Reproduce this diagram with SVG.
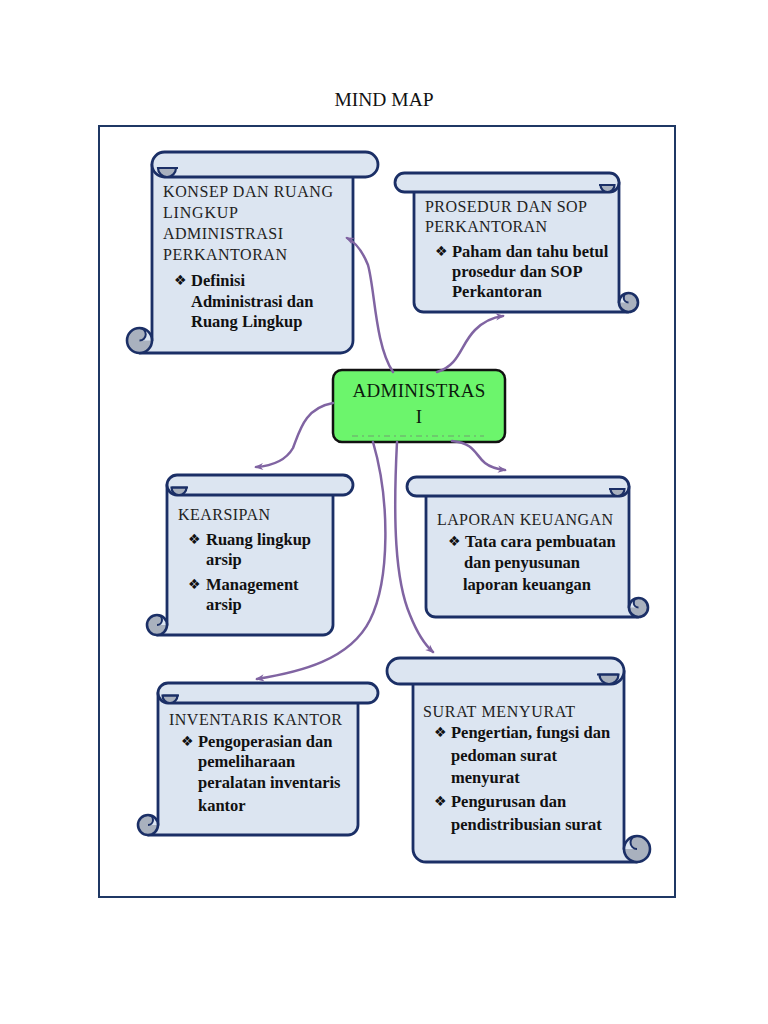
<svg xmlns="http://www.w3.org/2000/svg" width="768" height="1024" viewBox="0 0 768 1024">
<style>
.body{fill:#DCE5F1;stroke:#1B2F66;stroke-width:2.8;stroke-linejoin:round}
.curl{fill:#A9B1BE;stroke:#1B2F66;stroke-width:2.2}
.gd{fill:#A9B1BE;stroke:none}
.lt{fill:#DCE5F1;stroke:none}
.ring{fill:none;stroke:#1B2F66;stroke-width:2.6}
.cl{fill:none;stroke:#1B2F66;stroke-width:2}
.hd{font-family:"Liberation Serif",serif;font-size:16px;fill:#222}
.bt{font-family:"Liberation Serif",serif;font-size:16.5px;font-weight:bold;fill:#111}
.bl{font-family:"DejaVu Sans",sans-serif;font-size:14px;fill:#111}
.conn{fill:none;stroke:#8064A2;stroke-width:2.5;stroke-linecap:round;marker-end:url(#ah)}
</style>
<defs>
<marker id="ah" viewBox="0 0 10 10" refX="8" refY="5" markerWidth="10" markerHeight="9" markerUnits="userSpaceOnUse" orient="auto">
<path d="M0,1 L10,5 L0,9 L3,5 Z" fill="#8064A2"/>
</marker>
</defs>
<rect width="768" height="1024" fill="#ffffff"/>
<text x="384" y="106" text-anchor="middle" font-family="Liberation Serif, serif" font-size="19.5" fill="#111">MIND MAP</text>
<rect id="frame" x="99" y="126" width="576" height="771" fill="none" stroke="#1F3864" stroke-width="2"/>

<g id="konsep">
<path class="body" d="M152,164.5 L353,164.5 L353,340.5 A12.5,12.5 0 0 1 340.5,353 L139.5,353 L139.5,340.5 L152,340.5 Z"/>
<rect class="body" x="152" y="152" width="226" height="25" rx="12.5"/>
<path class="curl" d="M158,168 A9,9 0 0 0 176,168 Z"/>
<path class="cl" d="M158,168 L178,168"/>
<circle class="gd" cx="139.5" cy="340.5" r="12.5"/>
<path class="lt" d="M139.5,328 A6.25,6.25 0 0 1 139.5,340.5 L152,340.5 A12.5,12.5 0 0 0 139.5,328 Z"/>
<circle class="ring" cx="139.5" cy="340.5" r="12.5"/>
<path class="cl" d="M139.5,328 A6.25,6.25 0 0 1 139.5,340.5"/>
<text class="hd" x="163" y="197" textLength="170" lengthAdjust="spacing">KONSEP DAN RUANG</text>
<text class="hd" x="163" y="218" textLength="75" lengthAdjust="spacing">LINGKUP</text>
<text class="hd" x="163" y="239" textLength="120" lengthAdjust="spacing">ADMINISTRASI</text>
<text class="hd" x="163" y="260" textLength="124" lengthAdjust="spacing">PERKANTORAN</text>
<text class="bl" x="174" y="285">❖</text>
<text class="bt" x="191" y="286">Definisi</text>
<text class="bt" x="191" y="307">Administrasi dan</text>
<text class="bt" x="191" y="327">Ruang Lingkup</text>
</g>

<g id="prosedur">
<path class="body" d="M414,182.5 L619,182.5 L619,302.5 L628.5,302.5 L628.5,312 L423.5,312 A9.5,9.5 0 0 1 414,302.5 Z"/>
<rect class="body" x="395" y="173" width="224" height="19" rx="9.5"/>
<path class="curl" d="M600.5,185 A7,7 0 0 0 614.5,185 Z"/>
<path class="cl" d="M599,185 L614.5,185"/>
<circle class="gd" cx="628.5" cy="302.5" r="9.5"/>
<path class="lt" d="M628.5,293 A4.75,4.75 0 0 0 628.5,302.5 L619,302.5 A9.5,9.5 0 0 1 628.5,293 Z"/>
<circle class="ring" cx="628.5" cy="302.5" r="9.5"/>
<path class="cl" d="M628.5,293 A4.75,4.75 0 0 0 628.5,302.5"/>
<text class="hd" x="425" y="212" textLength="162" lengthAdjust="spacing">PROSEDUR DAN SOP</text>
<text class="hd" x="425" y="232" textLength="122" lengthAdjust="spacing">PERKANTORAN</text>
<text class="bl" x="435" y="256">❖</text>
<text class="bt" x="452" y="257">Paham dan tahu betul</text>
<text class="bt" x="452" y="277">prosedur dan SOP</text>
<text class="bt" x="452" y="297">Perkantoran</text>
</g>

<g id="center">
<rect x="333" y="370" width="172" height="72" rx="9" fill="#6CF56C" stroke="#111" stroke-width="2.5"/>
<text x="419" y="397" text-anchor="middle" font-family="Liberation Serif, serif" font-size="19" fill="#0D1A0D" letter-spacing="0.3">ADMINISTRAS</text>
<text x="419" y="423" text-anchor="middle" font-family="Liberation Serif, serif" font-size="19" fill="#0D1A0D">I</text>
<line x1="352" y1="436" x2="484" y2="436" stroke="#6f9f6f" stroke-width="1" stroke-dasharray="6,4,2,4"/>
</g>

<g id="kearsipan">
<path class="body" d="M167,485 L333,485 L333,625 A10,10 0 0 1 323,635 L157,635 L157,625 L167,625 Z"/>
<rect class="body" x="167" y="475" width="186" height="20" rx="10"/>
<path class="curl" d="M171.5,487.5 A7.5,7.5 0 0 0 186.5,487.5 Z"/>
<path class="cl" d="M171.5,487.5 L188,487.5"/>
<circle class="gd" cx="157" cy="625" r="10"/>
<path class="lt" d="M157,615 A5,5 0 0 1 157,625 L167,625 A10,10 0 0 0 157,615 Z"/>
<circle class="ring" cx="157" cy="625" r="10"/>
<path class="cl" d="M157,615 A5,5 0 0 1 157,625"/>
<text class="hd" x="178" y="520" textLength="92" lengthAdjust="spacing">KEARSIPAN</text>
<text class="bl" x="188" y="544">❖</text>
<text class="bt" x="206" y="545">Ruang lingkup</text>
<text class="bt" x="206" y="565">arsip</text>
<text class="bl" x="188" y="589">❖</text>
<text class="bt" x="206" y="590">Management</text>
<text class="bt" x="206" y="610">arsip</text>
</g>

<g id="laporan">
<path class="body" d="M426,486.5 L629,486.5 L629,607.5 L638.5,607.5 L638.5,617 L435.5,617 A9.5,9.5 0 0 1 426,607.5 Z"/>
<rect class="body" x="407" y="477" width="222" height="19" rx="9.5"/>
<path class="curl" d="M610.5,489 A7,7 0 0 0 624.5,489 Z"/>
<path class="cl" d="M609,489 L624.5,489"/>
<circle class="gd" cx="638.5" cy="607.5" r="9.5"/>
<path class="lt" d="M638.5,598 A4.75,4.75 0 0 0 638.5,607.5 L629,607.5 A9.5,9.5 0 0 1 638.5,598 Z"/>
<circle class="ring" cx="638.5" cy="607.5" r="9.5"/>
<path class="cl" d="M638.5,598 A4.75,4.75 0 0 0 638.5,607.5"/>
<text class="hd" x="437" y="525" textLength="176" lengthAdjust="spacing">LAPORAN KEUANGAN</text>
<text class="bl" x="448" y="546">❖</text>
<text class="bt" x="465" y="547">Tata cara pembuatan</text>
<text class="bt" x="464" y="568">dan penyusunan</text>
<text class="bt" x="463" y="590">laporan keuangan</text>
</g>

<g id="inventaris">
<path class="body" d="M158,693 L358,693 L358,825 A10,10 0 0 1 348,835 L148,835 L148,825 L158,825 Z"/>
<rect class="body" x="158" y="683" width="220" height="20" rx="10"/>
<path class="curl" d="M162.5,695.5 A7.5,7.5 0 0 0 177.5,695.5 Z"/>
<path class="cl" d="M162.5,695.5 L179,695.5"/>
<circle class="gd" cx="148" cy="825" r="10"/>
<path class="lt" d="M148,815 A5,5 0 0 1 148,825 L158,825 A10,10 0 0 0 148,815 Z"/>
<circle class="ring" cx="148" cy="825" r="10"/>
<path class="cl" d="M148,815 A5,5 0 0 1 148,825"/>
<text class="hd" x="169" y="725" textLength="173" lengthAdjust="spacing">INVENTARIS KANTOR</text>
<text class="bl" x="181" y="746">❖</text>
<text class="bt" x="198" y="747">Pengoperasian dan</text>
<text class="bt" x="198" y="767">pemeliharaan</text>
<text class="bt" x="198" y="788">peralatan inventaris</text>
<text class="bt" x="198" y="811">kantor</text>
</g>

<g id="surat">
<path class="body" d="M413,671 L624,671 L624,849 L637,849 L637,862 L426,862 A13,13 0 0 1 413,849 Z"/>
<rect class="body" x="387" y="658" width="237" height="26" rx="13"/>
<path class="curl" d="M599.5,674.5 A9.5,9.5 0 0 0 618.5,674.5 Z"/>
<path class="cl" d="M597,674.5 L618.5,674.5"/>
<circle class="gd" cx="637" cy="849" r="13"/>
<path class="lt" d="M637,836 A6.5,6.5 0 0 0 637,849 L624,849 A13,13 0 0 1 637,836 Z"/>
<circle class="ring" cx="637" cy="849" r="13"/>
<path class="cl" d="M637,836 A6.5,6.5 0 0 0 637,849"/>
<text class="hd" x="423" y="717" textLength="152" lengthAdjust="spacing">SURAT MENYURAT</text>
<text class="bl" x="434" y="737">❖</text>
<text class="bt" x="451" y="738">Pengertian, fungsi dan</text>
<text class="bt" x="451" y="761">pedoman surat</text>
<text class="bt" x="451" y="783">menyurat</text>
<text class="bl" x="434" y="806">❖</text>
<text class="bt" x="451" y="807">Pengurusan dan</text>
<text class="bt" x="451" y="830">pendistribusian surat</text>
</g>

<g id="connectors">
<path class="conn" d="M393,372 C375,345 375,290 368,265 C362,250 355,242 347,238"/>
<path class="conn" d="M437,372 C460,365 460,345 475,330 C485,320 495,317 503,316"/>
<path class="conn" d="M333,403 C305,408 300,430 293,448 C285,462 270,466 256,467"/>
<path class="conn" d="M452,441 C475,443 475,455 485,463 C490,467 497,469 505,470"/>
<path class="conn" d="M373,442 C390,500 390,580 370,620 C350,660 300,672 257,679"/>
<path class="conn" d="M397,442 C393,520 395,580 410,615 C418,635 425,645 433,652"/>
</g>
</svg>
